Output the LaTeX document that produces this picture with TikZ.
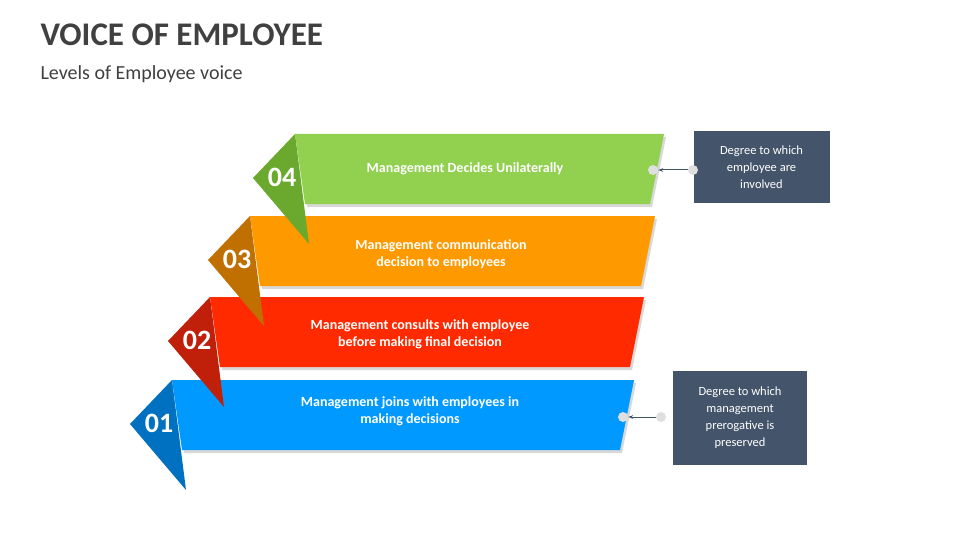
\documentclass[tikz,border=0pt]{standalone}
\usepackage{fontspec}
\setmainfont{Carlito}
\usetikzlibrary{arrows.meta}
\definecolor{cG}{HTML}{92D050}\definecolor{dG}{HTML}{6AA92D}
\definecolor{cO}{HTML}{FF9900}\definecolor{dO}{HTML}{C07000}
\definecolor{cR}{HTML}{FF2A00}\definecolor{dR}{HTML}{C0200A}
\definecolor{cB}{HTML}{0099FF}\definecolor{dB}{HTML}{0070C0}
\definecolor{boxc}{HTML}{44546A}
\definecolor{titc}{HTML}{404040}
\tikzset{
 bandtxt/.style={text=white,font=\fontsize{14}{17}\selectfont\bfseries,align=center},
 numtxt/.style={text=white,font=\fontsize{28}{30}\selectfont\bfseries},
 infobox/.style={fill=boxc,text=white,font=\fontsize{12.5}{17}\selectfont,align=center,minimum width=136pt,inner sep=0pt},
 dot/.style={circle,fill=gray!25,minimum size=10pt,inner sep=0pt},
 link/.style={draw=boxc,line width=1pt,-{Stealth[length=5pt]}}
}
\begin{document}
\begin{tikzpicture}[x=1pt,y=-1pt]
\useasboundingbox (0,0) rectangle (960,540);
\node[anchor=west,text=titc,font=\fontsize{33}{36}\selectfont\bfseries] (title) at (37,35) {VOICE OF EMPLOYEE};
\node[anchor=west,text=titc,font=\fontsize{20}{24}\selectfont] (sub) at (37,74) {Levels of Employee voice};
% bands: top y, left x, right top x, color, dark
\foreach \t/\l/\r/\c/\d/\n in {380/172/634/cB/dB/01, 297/210/644/cR/dR/02, 216/250/655/cO/dO/03, 134/295/664/cG/dG/04}{
  \fill[black!30,opacity=0.5] (\l+2,\t+3) -- (\r+2,\t+3) -- (\r-12,\t+73) -- (\l+12,\t+73) -- cycle;
  \fill[\c] (\l,\t) -- (\r,\t) -- (\r-14,\t+70) -- (\l+10,\t+70) -- cycle;
  \fill[\d] (\l,\t) -- (\l-42,\t+44) -- (\l+14,\t+110) -- cycle;
  \node[numtxt] at (\l-13,\t+43) {\n};
}
\node[bandtxt] (t1) at (410,411) {Management joins with employees in\\making decisions};
\node[bandtxt] (t2) at (420,334) {Management consults with employee\\before making final decision};
\node[bandtxt] (t3) at (441,254) {Management communication\\decision to employees};
\node[bandtxt] (t4) at (465,169) {Management Decides Unilaterally};
\node[infobox,minimum height=72pt] (b4) at (761.5,167) {Degree to which\\employee are\\involved};
\node[infobox,minimum height=94pt,minimum width=134pt] (b1) at (740,418) {Degree to which\\management\\prerogative is\\preserved};
\node[dot] (d4a) at (653,170) {};
\node[dot] (d4b) at (693,170) {};
\node[dot] (d1a) at (623,417) {};
\node[dot] (d1b) at (661,417) {};
\draw[link] (d4b) -- (d4a);
\draw[link] (d1b) -- (d1a);
\end{tikzpicture}
\end{document}
